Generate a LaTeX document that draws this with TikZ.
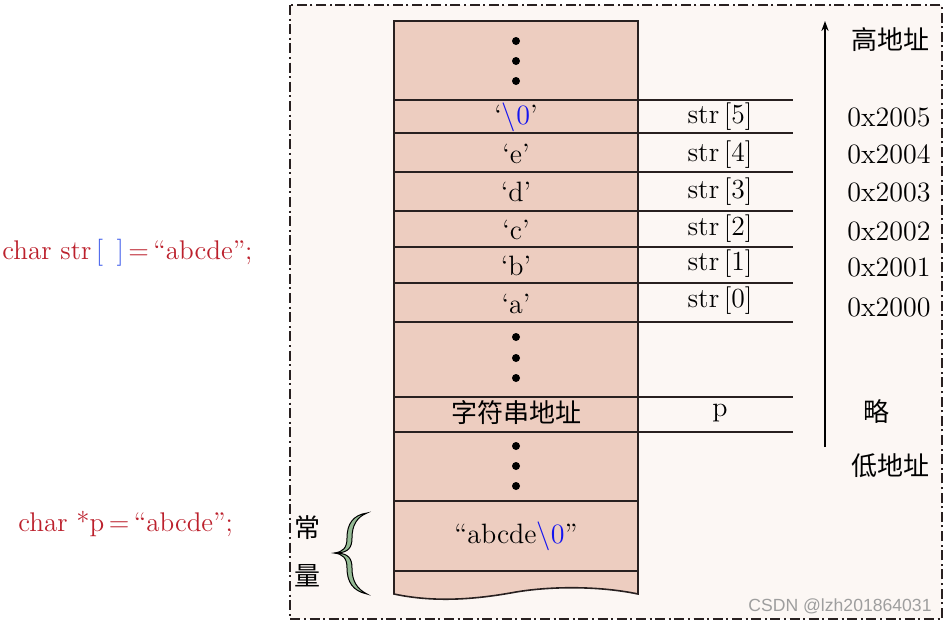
\documentclass[tikz,border=0pt]{standalone}
\usepackage{fontspec}
\newfontfamily\cjk{Noto Sans CJK SC}
\newfontfamily\wmfont{Liberation Sans}
\usetikzlibrary{arrows.meta}
\definecolor{memfill}{RGB}{237,205,192}
\definecolor{bgfill}{RGB}{252,247,244}
\definecolor{codered}{RGB}{188,32,44}
\definecolor{brk}{RGB}{60,90,235}
\definecolor{zeroblue}{RGB}{20,20,240}
\definecolor{bracegreen}{RGB}{148,186,148}
\definecolor{linec}{RGB}{40,32,32}
\begin{document}
\begin{tikzpicture}[x=0.5pt,y=-0.5pt,
  cell/.style={inner sep=0pt, font=\fontsize{14}{16}\selectfont},
  lbl/.style={inner sep=0pt, font=\fontsize{13.8}{16}\selectfont\addfontfeatures{LetterSpace=3}},
  addr/.style={inner sep=0pt, font=\fontsize{14}{16}\selectfont\addfontfeatures{LetterSpace=8}},
  cjkt/.style={inner sep=0pt, font=\fontsize{13}{15}\cjk},
  code/.style={inner sep=0pt, text=codered, font=\fontsize{13.5}{16}\selectfont},
  memline/.style={draw=linec, line width=0.8pt},
  dotm/.style={fill=black},
  frame/.style={draw=linec, line width=0.7pt, dash pattern={on 5pt off 1.8pt on 1pt off 1.8pt}, fill=bgfill},
  addrarrow/.style={draw=black, line width=0.7pt, -{Stealth[length=5pt,width=3.6pt]}}
]
\useasboundingbox[fill=white] (0,0) rectangle (948,623);
% frame
\path[frame] (290,5) rectangle (942,619);
% memory column
\path[memline, fill=memfill] (394,21) -- (638,21) -- (638,594)
  .. controls (600,586) and (552,586) .. (516,592)
  .. controls (478,599) and (436,603) .. (394,594) -- cycle;
\foreach \yy in {100,133,172,211,247,283,322,397,432}
  \draw[memline] (394,\yy) -- (793,\yy);
\foreach \yy in {501,571}
  \draw[memline] (394,\yy) -- (638,\yy);
% dots
\foreach \yy in {41,61,81,337,358,378,446,466,486}
  \fill[dotm] (516,\yy) circle[radius=2pt];
% cell contents
\node[cell] (c5) at (516,117) {‘{\color{zeroblue}$\backslash$0}’};
\node[cell] (c4) at (516,154) {‘e’};
\node[cell] (c3) at (516,192) {‘d’};
\node[cell] (c2) at (516,230) {‘c’};
\node[cell] (c1) at (516,266) {‘b’};
\node[cell] (c0) at (516,304) {‘a’};
\node[cjkt] (cp) at (516,413) {字符串地址};
\node[cell] (cs) at (516,536) {“abcde{\color{zeroblue}$\backslash$0}”};
% names
\node[lbl] (s5) at (720,117) {str\,[5]};
\node[lbl] (s4) at (720,155) {str\,[4]};
\node[lbl] (s3) at (720,192) {str\,[3]};
\node[lbl] (s2) at (720,229) {str\,[2]};
\node[lbl] (s1) at (720,264) {str\,[1]};
\node[lbl] (s0) at (720,301) {str\,[0]};
\node[cell] (sp) at (720,413) {p};
% addresses
\node[addr] (a5) at (889,117) {0x2005};
\node[addr] (a4) at (889,154) {0x2004};
\node[addr] (a3) at (889,192) {0x2003};
\node[addr] (a2) at (889,231) {0x2002};
\node[addr] (a1) at (889,267) {0x2001};
\node[addr] (a0) at (889,307) {0x2000};
% address direction
\coordinate (lo) at (825,447);
\coordinate (hi) at (825,21);
\draw[addrarrow] (lo) -- (hi);
\node[cjkt] (high) at (890,40) {高地址};
\node[cjkt] (omit) at (876,411) {略};
\node[cjkt] (low) at (890,466) {低地址};
% constant brace
\node[cjkt] (k1) at (307,528) {常};
\node[cjkt] (k2) at (307,576) {量};
\path[draw=black, line width=0.5pt, fill=bracegreen]
  (367,513) .. controls (353,515) and (347,524) .. (347,538)
  .. controls (347,548) and (343,552) .. (334,553)
  .. controls (343,554) and (347,558) .. (347,568)
  .. controls (347,582) and (353,591) .. (367,594)
  .. controls (357,589) and (352,581) .. (352,568)
  .. controls (352,558) and (348,554) .. (338,553)
  .. controls (348,552) and (352,548) .. (352,538)
  .. controls (352,525) and (357,517) .. (367,513) -- cycle;
% code
\node[code, anchor=west] (code1) at (2,253) {char str\,{\color{brk}[\ \,]}\,=\,“abcde”;};
\node[code, anchor=west] (code2) at (18,524) {char *p\,=\,“abcde”;};
% watermark
\node[inner sep=0pt, anchor=east, text=black!38, font=\fontsize{8.8}{10}\wmfont] (wm) at (932,606) {CSDN @lzh201864031};
\end{tikzpicture}
\end{document}
